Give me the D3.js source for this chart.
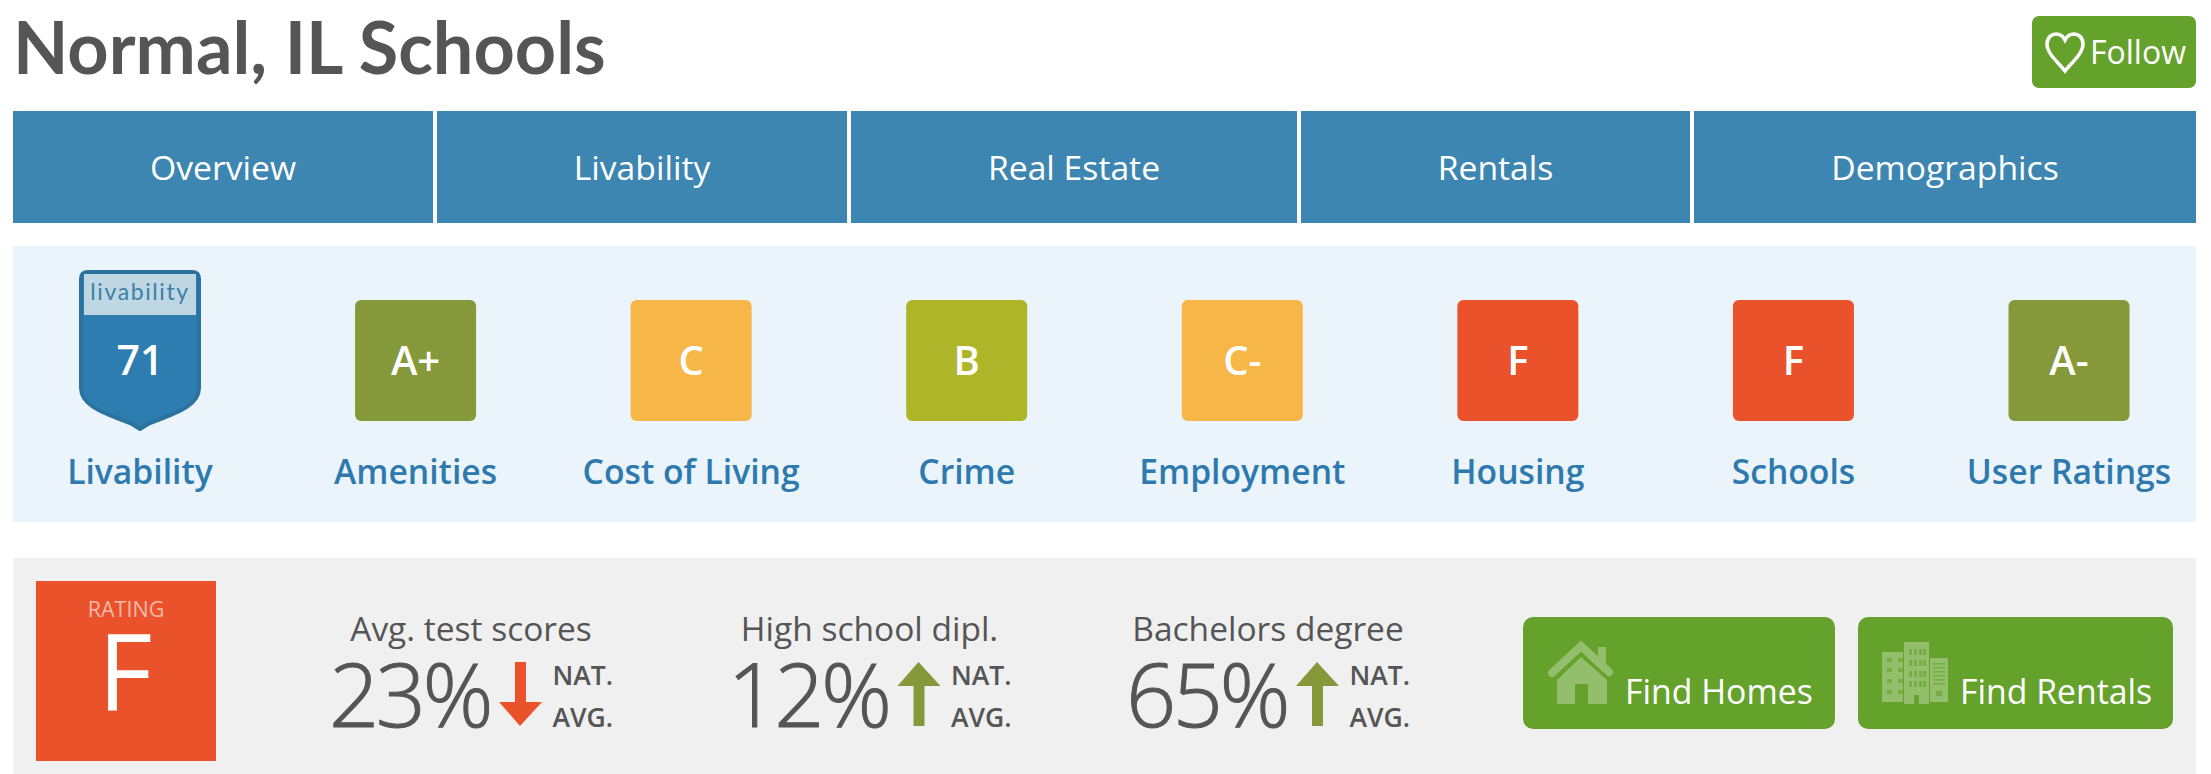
<!DOCTYPE html>
<html>
<head>
<meta charset="utf-8">
<title>Normal, IL Schools</title>
<script src="https://cdn.jsdelivr.net/npm/d3@7"></script>
<style>
    html, body { margin: 0; padding: 0; background: #fff; overflow: hidden; }
    text { font-family: "Open Sans", sans-serif; }
</style>
</head>
<body>
<div id="visualization"></div>
<script>
// page text and values
const pageTitle = "Normal, IL Schools";
const followLabel = "Follow";
const navItems = ["Overview", "Livability", "Real Estate", "Rentals", "Demographics"];

const scoreLabels = ["Livability", "Amenities", "Cost of Living", "Crime", "Employment", "Housing", "Schools", "User Ratings"];
const scoreValues = ["71", "A+", "C", "B", "C-", "F", "F", "A-"];

const ratingLabel = "RATING";
const ratingValue = "F";

const statLabels = ["Avg. test scores", "High school dipl.", "Bachelors degree"];
const statValues = [23, 12, 65];
const statDirections = ["down", "up", "up"];
const natLines = ["NAT.", "AVG."];

const actionLabels = ["Find Homes", "Find Rentals"];

// colors
const gradeColor = d3.scaleOrdinal()
    .domain(["A+", "A-", "B", "C", "C-", "F"])
    .range(["#85993a", "#85993a", "#aeb528", "#f7b648", "#f7b648", "#ea522c"]);
const arrowColor = d3.scaleOrdinal()
    .domain(["down", "up"])
    .range(["#ea522c", "#85993a"]);
const navBlue = "#3e86b2";
const linkBlue = "#2e7aae";
const green = "#65a22c";
const grey = "#555555";

const width = 2211;
const height = 774;

const svg = d3.select("#visualization")
    .append("svg")
    .attr("width", width)
    .attr("height", height)
    .style("display", "block");

// small helper so the text calls stay short
function addText(parent, str, x, y, size, fill, weight, anchor) {
    return parent.append("text")
        .attr("x", x)
        .attr("y", y)
        .attr("font-size", size)
        .attr("font-weight", weight || 400)
        .attr("fill", fill)
        .attr("text-anchor", anchor || "middle")
        .text(str);
}

drawHeader();
drawNav();
drawScores();
drawStats();

function drawHeader() {
    addText(svg, pageTitle, 13, 74, 72, grey, 700, "start")
        .style("font-family", "Lato, sans-serif");

    svg.append("rect")
        .attr("x", 2032).attr("y", 16)
        .attr("width", 164).attr("height", 72)
        .attr("rx", 7)
        .attr("fill", green);

    // heart outline
    svg.append("path")
        .attr("transform", "translate(2065,35)")
        .attr("d", "M0,36 C-6,28 -18,19 -18,9 C-18,2 -13,-1 -9,-1 C-5,-1 -2,1 0,5 C2,1 5,-1 9,-1 C13,-1 18,2 18,9 C18,19 6,28 0,36 Z")
        .attr("fill", "none")
        .attr("stroke", "#fff")
        .attr("stroke-width", 3.5);

    addText(svg, followLabel, 2090, 64, 32, "#fff", 400, "start");
}

function drawNav() {
    const navLeft = d3.scaleOrdinal().domain(navItems).range([13, 437, 851, 1301, 1694]);
    const navRight = d3.scaleOrdinal().domain(navItems).range([433, 847, 1297, 1690, 2196]);

    const tabs = svg.selectAll(".tab")
        .data(navItems)
        .enter()
        .append("g")
        .attr("class", "tab");

    tabs.append("rect")
        .attr("x", d => navLeft(d))
        .attr("y", 111)
        .attr("width", d => navRight(d) - navLeft(d))
        .attr("height", 112)
        .attr("fill", navBlue);

    tabs.append("text")
        .attr("x", d => (navLeft(d) + navRight(d)) / 2)
        .attr("y", 180)
        .attr("font-size", 33.7)
        .attr("fill", "#fff")
        .attr("text-anchor", "middle")
        .text(d => d);
}

function drawScores() {
    svg.append("rect")
        .attr("x", 13).attr("y", 246)
        .attr("width", 2183).attr("height", 276)
        .attr("fill", "#ebf4fb");

    const x = d3.scalePoint()
        .domain(scoreLabels)
        .range([140, 2069]);

    svg.selectAll(".score-label")
        .data(scoreLabels)
        .enter()
        .append("text")
        .attr("class", "score-label")
        .attr("x", d => x(d))
        .attr("y", 484)
        .attr("font-size", 33.7)
        .attr("font-weight", 600)
        .attr("fill", linkBlue)
        .attr("text-anchor", "middle")
        .text(d => d);

    // first one is the shield, the rest are letter grades
    drawShield(x(scoreLabels[0]), scoreValues[0]);

    const grades = svg.selectAll(".grade")
        .data(scoreLabels.slice(1))
        .enter()
        .append("g")
        .attr("class", "grade")
        .attr("transform", d => `translate(${x(d)},0)`);

    grades.append("rect")
        .attr("x", -60.5)
        .attr("y", 300)
        .attr("width", 121)
        .attr("height", 121)
        .attr("rx", 6)
        .attr("fill", (d, i) => gradeColor(scoreValues[i + 1]));

    grades.append("text")
        .attr("y", 375)
        .attr("font-size", 40)
        .attr("font-weight", 600)
        .attr("fill", "#fff")
        .attr("text-anchor", "middle")
        .text((d, i) => scoreValues[i + 1]);
}

function drawShield(cx, value) {
    const shield = svg.append("g").attr("transform", `translate(${cx},0)`);

    shield.append("path")
        .attr("d", "M-52,272 Q-59,272 -59,279 L-59,388 C-59,406 -36,413 -8,424 L0,429 L8,424 C36,413 59,406 59,388 L59,279 Q59,272 52,272 Z")
        .attr("fill", "#2e7db0")
        .attr("stroke", "#2a739f")
        .attr("stroke-width", 4)
        .attr("stroke-linejoin", "round");

    shield.append("rect")
        .attr("x", -56)
        .attr("y", 274)
        .attr("width", 112)
        .attr("height", 41)
        .attr("fill", "#bfd6e3");

    addText(shield, "livability", 0, 300, 23, "#3a80a8", 400)
        .attr("letter-spacing", 1.6)
        .style("font-family", "Lato, sans-serif");

    addText(shield, value, 0, 375, 41, "#fff", 600);
}

function drawStats() {
    svg.append("rect")
        .attr("x", 13).attr("y", 558)
        .attr("width", 2183).attr("height", 216)
        .attr("fill", "#f0f0f0");

    // rating box
    svg.append("rect")
        .attr("x", 36).attr("y", 581)
        .attr("width", 180).attr("height", 180)
        .attr("fill", gradeColor(ratingValue));
    addText(svg, ratingLabel, 126, 617, 21.5, "rgba(255,255,255,0.6)", 400);
    addText(svg, ratingValue, 125, 711, 106, "#fff", 400);

    const x = d3.scalePoint()
        .domain(statLabels)
        .range([471, 1268]);

    const stats = svg.selectAll(".stat")
        .data(statLabels)
        .enter()
        .append("g")
        .attr("class", "stat")
        .attr("transform", d => `translate(${x(d)},0)`);

    stats.append("text")
        .attr("y", 641)
        .attr("font-size", 33.5)
        .attr("font-weight", 400)
        .attr("fill", grey)
        .attr("text-anchor", "middle")
        .text(d => d);

    // light face with a thin stroke, the plain light looked too thin
    stats.append("text")
        .attr("x", 19)
        .attr("y", 727)
        .attr("font-size", 88)
        .attr("font-weight", 300)
        .attr("letter-spacing", -3.5)
        .attr("fill", grey)
        .attr("stroke", grey)
        .attr("stroke-width", 1)
        .attr("text-anchor", "end")
        .text((d, i) => statValues[i] + "%");

    stats.append("path")
        .attr("d", (d, i) => statDirections[i] === "up"
            ? "M49,662 L71,686 L55,686 L55,726 L44,726 L44,686 L28,686 Z"
            : "M44,662 L55,662 L55,702 L71,702 L49,726 L28,702 L44,702 Z")
        .attr("fill", (d, i) => arrowColor(statDirections[i]));

    natLines.forEach((line, i) => {
        stats.append("text")
            .attr("x", 142)
            .attr("y", i === 0 ? 685 : 727)
            .attr("font-size", 26.5)
            .attr("font-weight", 600)
            .attr("fill", grey)
            .attr("text-anchor", "end")
            .text(line);
    });

    drawButton(1523, 312, actionLabels[0], 1625);
    drawButton(1858, 315, actionLabels[1], 1960);
    drawHouse(1548, 641);
    drawBuildings(1882, 641);
}

function drawButton(bx, bw, label, textX) {
    svg.append("rect")
        .attr("x", bx).attr("y", 617)
        .attr("width", bw).attr("height", 112)
        .attr("rx", 10)
        .attr("fill", green);
    addText(svg, label, textX, 704, 33.8, "#fff", 400, "start");
}

function drawHouse(ox, oy) {
    const house = svg.append("g")
        .attr("transform", `translate(${ox},${oy})`)
        .attr("opacity", 0.3);
    // chimney
    house.append("rect")
        .attr("x", 50).attr("y", 6)
        .attr("width", 8).attr("height", 20)
        .attr("fill", "#fff");
    // roof
    house.append("path")
        .attr("d", "M4,32 L33,5 L61,31")
        .attr("fill", "none")
        .attr("stroke", "#fff")
        .attr("stroke-width", 8)
        .attr("stroke-linecap", "round");
    // walls with door cut out
    house.append("path")
        .attr("d", "M33,16 L59,39 L59,63 L40,63 L40,43 L27,43 L27,63 L9,63 L9,39 Z")
        .attr("fill", "#fff");
}

function drawBuildings(ox, oy) {
    const icon = svg.append("g")
        .attr("transform", `translate(${ox},${oy})`);

    const blocks = icon.append("g")
        .attr("fill", "#fff")
        .attr("opacity", 0.3);
    blocks.append("rect").attr("x", 0).attr("y", 11).attr("width", 21).attr("height", 50);
    blocks.append("path").attr("d", "M22,1 H47 V63 H37 V54 H32 V63 H22 Z");
    blocks.append("rect").attr("x", 48).attr("y", 17).attr("width", 18).attr("height", 44);

    // faint windows
    const windows = icon.append("g")
        .attr("fill", green)
        .attr("opacity", 0.6);
    [17, 27, 38, 49].forEach(y => {
        windows.append("rect").attr("x", 5).attr("y", y).attr("width", 5).attr("height", 4);
        windows.append("rect").attr("x", 16).attr("y", y).attr("width", 5).attr("height", 4);
    });
    [8, 19, 30, 40].forEach(y => {
        [27, 32, 37, 41].forEach(wx => {
            windows.append("rect").attr("x", wx).attr("y", y).attr("width", 3).attr("height", 6);
        });
    });
    [22, 26, 30, 34, 38, 42].forEach(y => {
        windows.append("rect").attr("x", 51).attr("y", y).attr("width", 12).attr("height", 1.5);
    });
    windows.append("rect").attr("x", 54).attr("y", 50).attr("width", 6).attr("height", 5);
}
</script>
</body>
</html>
